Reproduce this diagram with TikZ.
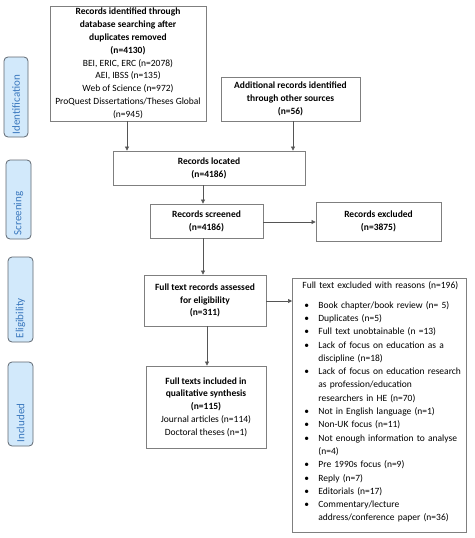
\documentclass[tikz,border=0pt]{standalone}
\usepackage{fontspec}
\setmainfont{Carlito}
\usetikzlibrary{arrows.meta}
\definecolor{boxline}{HTML}{7F7F7F}
\definecolor{sidefill}{HTML}{D2E9FB}
\definecolor{sideline}{HTML}{5F6770}
\definecolor{sidetext}{HTML}{3A78BE}
\definecolor{arrowc}{HTML}{555555}
\newcommand{\bl}{\makebox[14pt][l]{\textbullet}}
\newcommand{\ind}{\hspace*{14pt}}
\begin{document}
\begin{tikzpicture}[x=1pt,y=-1pt,
  box/.style={draw=boxline, line width=0.8pt, align=center, inner sep=0pt,
    font=\fontsize{9.5}{12.8}\selectfont},
  side/.style={draw=sideline, fill=sidefill, rounded corners=4pt, line width=0.8pt, inner sep=0pt},
  sidelabel/.style={rotate=90, anchor=west, inner sep=0pt, text=sidetext, font=\fontsize{11}{13}\selectfont},
  arr/.style={draw=arrowc, line width=0.6pt, -{Triangle[length=4pt,width=4pt]}}]
\useasboundingbox (0,0) rectangle (474,538);

% side labels
\node[side, minimum width=24pt, minimum height=80pt] (sid) at (16,97) {};
\node[sidelabel] (tid) at ([yshift=3pt]sid.south) {Identification};
\node[side, minimum width=25pt, minimum height=79pt] (ssc) at (18.5,199.5) {};
\node[sidelabel] (tsc) at ([yshift=4pt]ssc.south) {Screening};
\node[side, minimum width=25pt, minimum height=85pt] (sel) at (20.5,299.5) {};
\node[sidelabel] (tel) at ([yshift=4pt]sel.south) {Eligibility};
\node[side, minimum width=25pt, minimum height=84pt] (sin) at (20.5,404) {};
\node[sidelabel] (tin) at ([yshift=4pt]sin.south) {Included};

% main boxes
\node[box, minimum width=156pt, minimum height=115pt] (A) at (128,63.5)
  {\textbf{Records identified through}\\\textbf{database searching after}\\\textbf{duplicates removed}\\\textbf{(n=4130)}\\
   BEI, ERIC, ERC (n=2078)\\AEI, IBSS (n=135)\\Web of Science (n=972)\\ProQuest Dissertations/Theses Global\\(n=945)};
\node[box, minimum width=139pt, minimum height=44pt] (B) at (290.5,99)
  {\textbf{Additional records identified}\\\textbf{through other sources}\\\textbf{(n=56)}};
\node[box, minimum width=192pt, minimum height=34pt] (C) at (209,168)
  {\textbf{Records located}\\\textbf{(n=4186)}};
\node[box, minimum width=113pt, minimum height=34pt] (D) at (206.5,221)
  {\textbf{Records screened}\\\textbf{(n=4186)}};
\node[box, minimum width=125pt, minimum height=39pt] (E) at (378.5,221.5)
  {\textbf{Records excluded}\\\textbf{(n=3875)}};
\node[box, minimum width=122pt, minimum height=51pt] (F) at (205,300.5)
  {\textbf{Full text records assessed}\\\textbf{for eligibility}\\\textbf{(n=311)}};
\node[box, minimum width=120pt, minimum height=82pt] (H) at (206,407)
  {\textbf{Full texts included in}\\\textbf{qualitative synthesis}\\\textbf{(n=115)}\\Journal articles (n=114)\\Doctoral theses (n=1)};
\node[box, align=left, anchor=north west, text width=170pt, minimum width=174pt, minimum height=254pt,
  inner xsep=0pt, inner ysep=0pt] (G) at (292,278)
  {\hspace*{8pt}\begin{minipage}[t][252pt][t]{164pt}\fontsize{9.5}{13.3}\selectfont\vspace*{2pt}
   Full text excluded with reasons (n=196)\\[6.5pt]
   \hspace*{2pt}\bl Book chapter/book review (n= 5)\\
   \hspace*{2pt}\bl Duplicates (n=5)\\
   \hspace*{2pt}\bl Full text unobtainable (n =13)\\
   \hspace*{2pt}\bl Lack of focus on education as a\\
   \hspace*{2pt}\ind discipline (n=18)\\
   \hspace*{2pt}\bl Lack of focus on education research\\
   \hspace*{2pt}\ind as profession/education\\
   \hspace*{2pt}\ind researchers in HE (n=70)\\
   \hspace*{2pt}\bl Not in English language (n=1)\\
   \hspace*{2pt}\bl Non-UK focus (n=11)\\
   \hspace*{2pt}\bl Not enough information to analyse\\
   \hspace*{2pt}\ind (n=4)\\
   \hspace*{2pt}\bl Pre 1990s focus (n=9)\\
   \hspace*{2pt}\bl Reply (n=7)\\
   \hspace*{2pt}\bl Editorials (n=17)\\
   \hspace*{2pt}\bl Commentary/lecture\\
   \hspace*{2pt}\ind address/conference paper (n=36)
   \end{minipage}};

% connectors
\draw[arr] (A.south -| 127,0) -- (C.north -| 127,0);
\draw[arr] (B.south -| 293,0) -- (C.north -| 293,0);
\draw[arr] (C.south -| 203,0) -- (D.north -| 203,0);
\draw[arr] (D.east |- 0,222) -- (E.west |- 0,222);
\draw[arr] (D.south -| 203,0) -- (F.north -| 203,0);
\draw[arr] (F.east |- 0,301) -- (G.west |- 0,301);
\draw[arr] (F.south -| 207,0) -- (H.north -| 207,0);
\end{tikzpicture}
\end{document}
